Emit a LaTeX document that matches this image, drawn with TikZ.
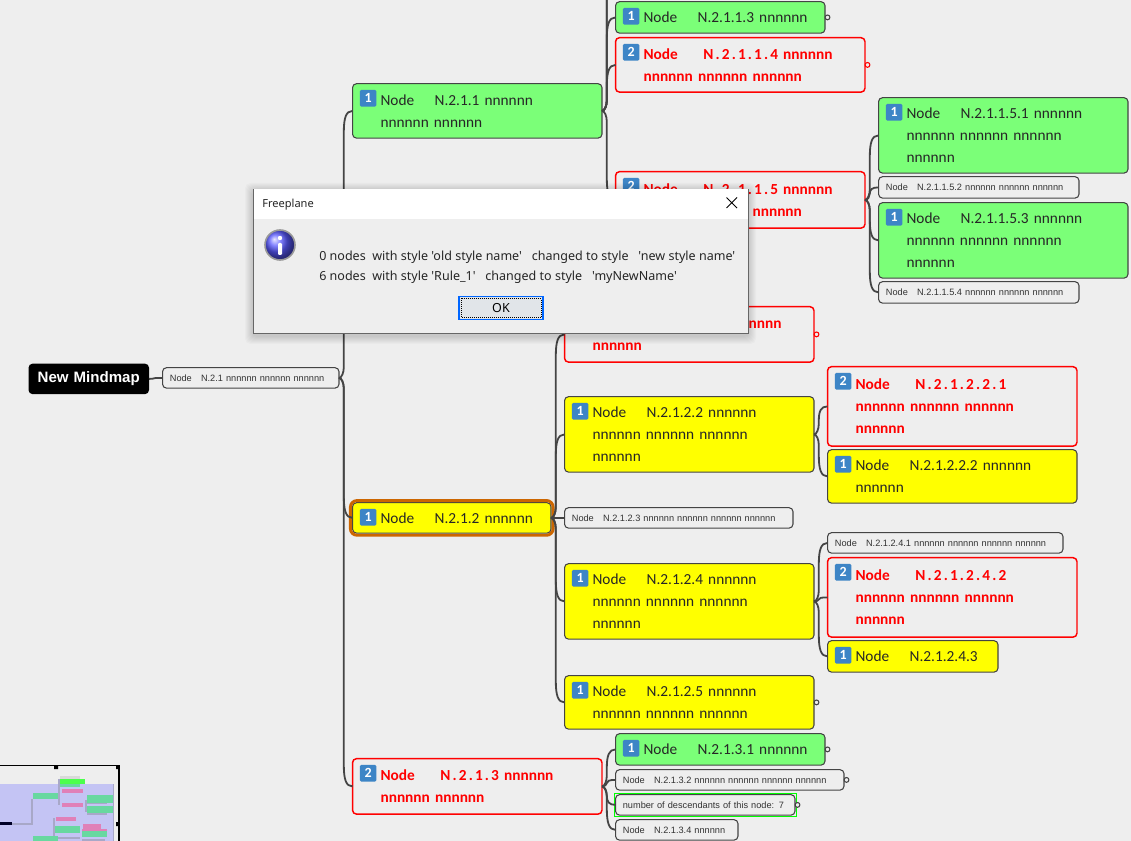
\documentclass[tikz,border=0pt]{standalone}
\usepackage{fontspec}
\usetikzlibrary{fit, calc}
\setmainfont{Carlito}
\newfontfamily\redface{Carlito}
\newfontfamily\rednum[LetterSpace=14]{Carlito}
\newfontfamily\smallface{Liberation Sans}
\newfontfamily\dlgface{Noto Sans}
\newcommand{\rn}[1]{{\rednum\bfseries #1}}

\definecolor{mapbg}{HTML}{EEEEEE}
\definecolor{nodegreen}{HTML}{7BFF78}
\definecolor{nodeyellow}{HTML}{FFFF00}
\definecolor{boxred}{HTML}{FF0000}
\definecolor{badgeblue}{HTML}{3D85C6}
\definecolor{edgegray}{HTML}{444444}
\definecolor{ringorange}{HTML}{CC6600}
\definecolor{mmlav}{HTML}{C4C4F4}
\definecolor{mmgreen}{HTML}{68D8A0}
\definecolor{mmpink}{HTML}{E080B8}
\definecolor{mmgray}{HTML}{A8A8C8}
\definecolor{okfill}{HTML}{E1E5E9}

\tikzset{
    sz/.style 2 args={anchor=north west, xshift=.4pt, yshift=-.5pt, minimum width=#1*.75pt-.4pt, minimum height=#2*.75pt-.4pt, text width=#1*.75pt-.4pt},
    mapnode/.style={rectangle, rounded corners=3pt, inner sep=0pt, outer sep=0pt, align=left, line width=.8pt, draw=edgegray,
        font=\fontsize{11.5}{16.5}\selectfont, execute at begin node={\leftskip=21pt}},
    greenbox/.style={mapnode, fill=nodegreen, text=black!85},
    yellowbox/.style={mapnode, fill=nodeyellow, text=black!85},
    redbox/.style={mapnode, draw=boxred, line width=1.1pt, text=boxred, font=\fontsize{11.5}{16.5}\redface\bfseries\selectfont},
    smallbox/.style={mapnode, font=\fontsize{6.9}{9}\smallface\selectfont, text=black!80, execute at begin node={\leftskip=5.5pt}},
    conn/.style={draw=edgegray, line width=1.35pt},
    badge/.style={anchor=north west, rectangle, rounded corners=1pt, fill=badgeblue, text=white, inner sep=0pt,
        minimum width=12.5pt, minimum height=12.5pt, font=\fontsize{10.5}{12}\selectfont\bfseries},
    fold/.style={circle, draw=edgegray, fill=mapbg, line width=.8pt, inner sep=0pt, minimum size=3.6pt},
    dlgtext/.style={anchor=west, inner sep=0pt, font=\fontsize{9.4}{11}\dlgface\selectfont, text=black!85},
}

\begin{document}
\begin{tikzpicture}[x=.75pt, y=-.75pt]

    \useasboundingbox (0, 0) rectangle (1131, 841);
    \fill[mapbg] (0, 0) rectangle (1131, 841);

    % root and first level
    \node[rectangle, rounded corners=3pt, fill=black, text=white, inner sep=0pt, outer sep=0pt, sz={121}{31}, align=center,
        font=\fontsize{11.3}{12}\smallface\bfseries\selectfont] (root) at (28, 363) {\raisebox{-1pt}{New Mindmap}};
    \node[smallbox, sz={177}{21}] (n21) at (162, 367) {Node\ \ \ N.2.1 nnnnnn nnnnnn nnnnnn};

    \node[greenbox, sz={250}{55}] (n211) at (352, 83) {Node\ \ \ \ N.2.1.1 nnnnnn\\nnnnnn nnnnnn};
    \node[yellowbox, sz={199}{31}] (n212) at (352, 502) {Node\ \ \ \ N.2.1.2 nnnnnn};
    \node[redbox, sz={250}{56}] (n213) at (352, 758) {Node\ \ \ \ \ \rn{N.2.1.3} nnnnnn\\nnnnnn nnnnnn};
    \node[draw=ringorange, line width=2.2pt, rounded corners=5pt, inner sep=1.6pt, fit=(n212)] (ring212) {};

    % below N.2.1.1
    \coordinate (n2111) at (616, -60);
    \coordinate (n2112) at (616, -30);
    \node[greenbox, sz={210}{32}] (n2113) at (615, 1) {Node\ \ \ \ N.2.1.1.3 nnnnnn};
    \node[redbox, sz={250}{55}] (n2114) at (615, 37) {Node\ \ \ \ \ \rn{N.2.1.1.4} nnnnnn\\nnnnnn nnnnnn nnnnnn};
    \node[redbox, sz={250}{57}] (n2115) at (615, 171) {Node\ \ \ \ \ \rn{N.2.1.1.5} nnnnnn\\nnnnnn nnnnnn nnnnnn};

    \node[greenbox, sz={250}{76}] (n21151) at (878, 97) {Node\ \ \ \ N.2.1.1.5.1 nnnnnn\\nnnnnn nnnnnn nnnnnn\\nnnnnn};
    \node[smallbox, sz={201}{22}] (n21152) at (878, 176) {Node\ \ \ N.2.1.1.5.2 nnnnnn nnnnnn nnnnnn};
    \node[greenbox, sz={250}{76}] (n21153) at (878, 202) {Node\ \ \ \ N.2.1.1.5.3 nnnnnn\\nnnnnn nnnnnn nnnnnn\\nnnnnn};
    \node[smallbox, sz={201}{22}] (n21154) at (878, 281) {Node\ \ \ N.2.1.1.5.4 nnnnnn nnnnnn nnnnnn};

    % below N.2.1.2
    \node[redbox, sz={250}{56}] (n2121) at (564, 306) {Node\ \ \ \ \ \rn{N.2.1.2.1} nnnnnn\\nnnnnn};
    \node[yellowbox, sz={250}{76}] (n2122) at (564, 396) {Node\ \ \ \ N.2.1.2.2 nnnnnn\\nnnnnn nnnnnn nnnnnn\\nnnnnn};
    \node[smallbox, sz={229}{21}] (n2123) at (564, 507) {Node\ \ \ N.2.1.2.3 nnnnnn nnnnnn nnnnnn nnnnnn};
    \node[yellowbox, sz={250}{76}] (n2124) at (564, 563) {Node\ \ \ \ N.2.1.2.4 nnnnnn\\nnnnnn nnnnnn nnnnnn\\nnnnnn};
    \node[yellowbox, sz={250}{54}] (n2125) at (564, 675) {Node\ \ \ \ N.2.1.2.5 nnnnnn\\nnnnnn nnnnnn nnnnnn};

    \node[redbox, sz={250}{80}] (n21221) at (827, 366) {Node\ \ \ \ \ \rn{N.2.1.2.2.1}\\nnnnnn nnnnnn nnnnnn\\nnnnnn};
    \node[yellowbox, sz={250}{54}] (n21222) at (827, 449) {Node\ \ \ \ N.2.1.2.2.2 nnnnnn\\nnnnnn};
    \node[smallbox, sz={236}{21}] (n21241) at (827, 532) {Node\ \ \ N.2.1.2.4.1 nnnnnn nnnnnn nnnnnn nnnnnn};
    \node[redbox, sz={250}{80}] (n21242) at (827, 557) {Node\ \ \ \ \ \rn{N.2.1.2.4.2}\\nnnnnn nnnnnn nnnnnn\\nnnnnn};
    \node[yellowbox, sz={171}{32}] (n21243) at (827, 640) {Node\ \ \ \ N.2.1.2.4.3};

    % below N.2.1.3
    \node[greenbox, sz={210}{32}] (n2131) at (615, 733) {Node\ \ \ \ N.2.1.3.1 nnnnnn};
    \node[smallbox, sz={229}{21}] (n2132) at (615, 769) {Node\ \ \ N.2.1.3.2 nnnnnn nnnnnn nnnnnn nnnnnn};
    \node[smallbox, sz={180}{21}] (n2133) at (615, 794) {number of descendants of this node: 7};
    \node[smallbox, sz={123}{21}] (n2134) at (615, 819) {Node\ \ \ N.2.1.3.4 nnnnnn};
    \node[draw=green, line width=1pt, inner sep=.9pt, fit=(n2133)] (ring2133) {};

    \foreach \a/\b in {root/n21, n21/n211, n21/n212, n21/n213, n211/n2111, n211/n2112, n211/n2113, n211/n2114, n211/n2115,
        n2115/n21151, n2115/n21152, n2115/n21153, n2115/n21154, n212/n2121, n212/n2122, n212/n2123, n212/n2124, n212/n2125,
        n2122/n21221, n2122/n21222, n2124/n21241, n2124/n21242, n2124/n21243, n213/n2131, n213/n2132, n213/n2133, n213/n2134}
        \draw[conn] let \p1=(\a.east), \p2=(\b.west), \n1={ifthenelse(\y2>\y1,1,-1)}, \n2={min(8pt,abs(\y2-\y1)/2)},
            \n3={min(16pt,abs(\y2-\y1)/2)}, \n4={\x1+3.6pt} in
            (\p1) .. controls ({\x1+2pt},\y1) and (\n4,{\y1+\n1*\n2*.5}) .. (\n4,{\y1+\n1*\n2})
            -- (\n4,{\y2-\n1*\n3}) .. controls (\n4,{\y2-\n1*\n3*.35}) and ({\x2-5pt},\y2) .. (\p2);

    \foreach \n/\k in {n211/1, n212/1, n213/2, n2113/1, n2114/2, n2115/2, n21151/1, n21153/1, n2121/2, n2122/1, n2124/1,
        n2125/1, n21221/2, n21222/1, n21242/2, n21243/1, n2131/1}
        \node[badge] (b\n) at ([shift={(7, 6)}]\n.north west) {\k};

    \foreach \n/\c in {n2113/edgegray, n2114/boxred, n2121/boxred, n2125/edgegray, n2131/edgegray, n2132/edgegray, n2133/edgegray}
        \node[fold, draw=\c] (f\n) at ([shift={(2.5, 0)}]\n.east) {};

    % overview in the corner
    \fill[mmlav] (0, 784) rectangle (113, 841);
    \draw[mmgray] (113, 784) -- (113, 841);
    \draw[black, line width=.9pt] (0, 765.5) -- (119, 765.5) -- (119, 841);
    \fill[black] (54, 766) rectangle (58, 769) (116, 766) rectangle (119, 769) (116, 822) rectangle (119, 826);
    \fill[black!15] (60, 776) rectangle (80, 780);
    \fill[green!70] (60, 779) rectangle (85, 784);
    \fill[mmgreen] (60, 784) rectangle (80, 787);
    \draw[mmgray, line width=.8pt] (32, 799) -- (32, 825) (59, 779) -- (59, 805) (86, 800) -- (86, 812) (54, 818) -- (54, 838);
    \draw[mmgray, line width=.8pt] (12, 824) -- (32, 824) (33, 838) -- (55, 838) (87, 803) -- (107, 803) (87, 814) -- (107, 814) (55, 838) -- (80, 838) (82, 840) -- (105, 840);
    \foreach \x/\y/\w/\h in {33/793/25/6, 55/826/25/7, 33/836/25/5, 87/795/26/8, 87/806/26/7, 82/831/25/6}
        \fill[mmgreen] (\x, \y) rectangle ({\x+\w}, {\y+\h});
    \foreach \x/\y/\w/\h in {62/789/21/4, 62/803/21/4, 56/817/20/4, 83/824/18/5, 82/829/25/2}
        \fill[mmpink] (\x, \y) rectangle ({\x+\w}, {\y+\h});
    \fill[black!85!blue] (0, 822) rectangle (12, 825);

    % dialog on top
    \foreach \s in {1,...,8}
        \fill[black, opacity=.018, rounded corners=4pt] (253-\s, 191-\s) rectangle (748+\s, 336+\s);
    \node[anchor=north west, rectangle, draw=black!60, fill=mapbg, line width=.7pt, inner sep=0pt, outer sep=0pt, minimum width=494.5*.75pt, minimum height=144.5*.75pt] (dlg) at (253.5, 189) {};
    \fill[white] (254, 189.5) rectangle (747.5, 219);
    \node[dlgtext, font=\fontsize{8.3}{11}\dlgface\selectfont] (dlgtitle) at (262, 204.5) {Freeplane};
    \draw[black, line width=.6pt] (726.5, 197.5) -- (737, 208) (737, 197.5) -- (726.5, 208);
    \shade[ball color=blue!65!white, draw=black!40, line width=1.2pt] (280, 245) circle (15);
    \fill[white, rounded corners=.8pt] (278, 243) rectangle (282, 255);
    \fill[white] (280, 238) circle (2.2);
    \node[dlgtext] (dlgline1) at (319, 257) {0 nodes\ \ with style 'old style name'\ \ \ changed to style\ \ \ 'new style name'};
    \node[dlgtext] (dlgline2) at (319, 277.5) {6 nodes\ \ with style 'Rule\_1'\ \ \ changed to style\ \ \ 'myNewName'};
    \node[anchor=north west, rectangle, draw=blue!60!cyan, fill=okfill, line width=1pt, inner sep=0pt, outer sep=0pt, minimum width=84*.75pt, minimum height=23*.75pt,
        font=\fontsize{9.4}{11}\dlgface\selectfont] (ok) at (459, 296.5) {OK};
    \draw[black, densely dotted, line width=.5pt] ([shift={(2, 2)}]ok.north west) rectangle ([shift={(-2, -2)}]ok.south east);

\end{tikzpicture}
\end{document}
